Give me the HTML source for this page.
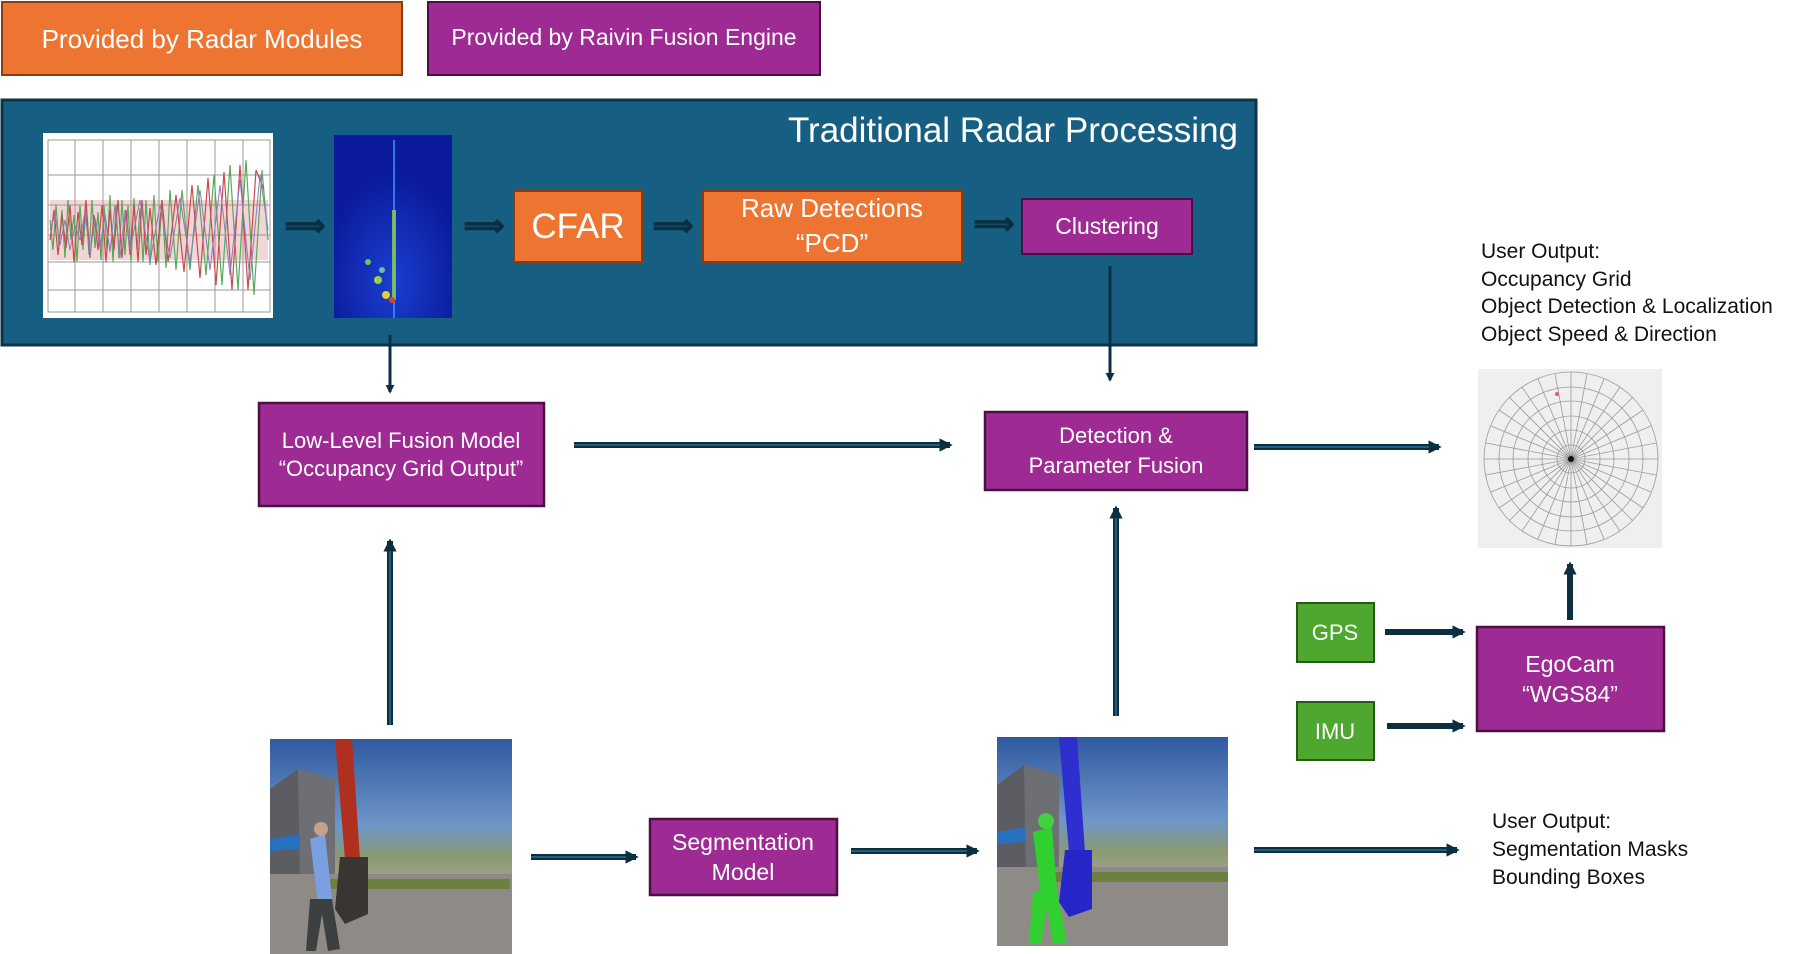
<!DOCTYPE html>
<html><head><meta charset="utf-8"><style>
html,body{margin:0;padding:0;background:#fff;}
svg{display:block;}
text{font-family:"Liberation Sans",sans-serif;}
</style></head><body>
<svg width="1812" height="954" viewBox="0 0 1812 954" xmlns="http://www.w3.org/2000/svg">
<defs>
<marker id="ah" viewBox="0 0 10 10" refX="8" refY="5" markerWidth="3" markerHeight="3" orient="auto"><path d="M0,0 L10,5 L0,10 z" fill="#0b2f40"/></marker>
<marker id="ah2" viewBox="0 0 10 10" refX="8" refY="5" markerWidth="2.2" markerHeight="2.6" orient="auto"><path d="M0,0 L10,5 L0,10 z" fill="#0b2f40"/></marker>
<linearGradient id="sky" x1="0" y1="0" x2="0" y2="1"><stop offset="0" stop-color="#2f5aa0"/><stop offset="0.4" stop-color="#6f95c8"/><stop offset="0.55" stop-color="#8a9a70"/><stop offset="0.7" stop-color="#a9a49a"/><stop offset="1" stop-color="#9c9a96"/></linearGradient>
<radialGradient id="spec" cx="0.5" cy="0.8" r="0.6"><stop offset="0" stop-color="#1a3fd0"/><stop offset="1" stop-color="#0a1a9a"/></radialGradient>
</defs>

<rect x="2" y="2" width="400" height="73" fill="#ed7431" stroke="#8a3d12" stroke-width="2"/>
<text x="202" y="48" font-size="26" fill="#fff" text-anchor="middle">Provided by Radar Modules</text>
<rect x="428" y="2" width="392" height="73" fill="#9e2a93" stroke="#4a1044" stroke-width="2"/>
<text x="624" y="45" font-size="23" fill="#fff" text-anchor="middle">Provided by Raivin Fusion Engine</text>

<rect x="2" y="100" width="1254" height="245" fill="#175f82" stroke="#0c3347" stroke-width="3"/>
<text x="1238" y="142" font-size="35" fill="#fff" text-anchor="end">Traditional Radar Processing</text>

<rect x="43" y="133" width="230" height="185" fill="#fff"/>
<g stroke="#999" stroke-width="1" fill="none">
<rect x="48" y="140" width="222" height="172"/>
<line x1="48" y1="175" x2="270" y2="175"/><line x1="48" y1="205" x2="270" y2="205"/><line x1="48" y1="235" x2="270" y2="235"/><line x1="48" y1="262" x2="270" y2="262"/><line x1="48" y1="290" x2="270" y2="290"/>
<line x1="75" y1="140" x2="75" y2="312"/><line x1="103" y1="140" x2="103" y2="312"/><line x1="131" y1="140" x2="131" y2="312"/><line x1="159" y1="140" x2="159" y2="312"/><line x1="187" y1="140" x2="187" y2="312"/><line x1="215" y1="140" x2="215" y2="312"/><line x1="243" y1="140" x2="243" y2="312"/>
</g>
<rect x="50" y="200" width="218" height="60" fill="#d58a8a" opacity="0.35"/>
<polyline fill="none" stroke="#5aa85a" stroke-width="1.2" points="50,220 53,250 56,205 59,245 62,210 65,258 68,200 71,240 74,215 77,262 80,205 83,250 86,208 89,255 92,200 95,248 98,212 101,260 104,205 107,250 110,195 113,262 116,205 119,258 122,200 125,255 128,205 131,262 134,198 137,250 140,208 143,262 146,200 150,265 154,195 158,262 162,200 166,268 170,190 176,270 182,190 190,270 198,185 206,275 214,175 222,285 230,165 238,290 246,160 254,295 262,170 268,240"/>
<polyline fill="none" stroke="#c94a4a" stroke-width="1.2" points="50,240 54,210 58,255 62,215 66,248 70,205 74,262 78,212 82,245 86,200 90,258 94,215 98,250 102,205 106,262 110,210 114,250 118,200 122,258 126,210 130,255 134,205 138,262 142,200 146,255 150,208 156,265 162,200 168,262 176,195 184,272 192,185 200,278 208,178 216,285 224,172 232,290 240,165 248,290 256,170 264,190"/>
<polyline fill="none" stroke="#8a7ac0" stroke-width="1" points="50,230 55,215 60,245 65,220 70,250 75,225 80,240 85,212 90,255 95,218 100,248 105,214 110,252 115,205 120,258 125,210 130,250 140,200 150,262 160,205 170,258 180,198 190,262 200,190 210,270 220,185 230,275 240,180 250,280 260,175 268,230"/>

<rect x="334" y="135" width="118" height="183" fill="url(#spec)"/>
<line x1="394" y1="140" x2="394" y2="318" stroke="#3fa0ff" stroke-width="2" opacity="0.7"/>
<rect x="392" y="210" width="4" height="90" fill="#8fd04a" opacity="0.8"/>
<circle cx="378" cy="280" r="4" fill="#9bd040"/><circle cx="386" cy="295" r="4" fill="#e0d030"/><circle cx="392" cy="300" r="3" fill="#e04020"/><circle cx="368" cy="262" r="3" fill="#70c060"/><circle cx="382" cy="270" r="3" fill="#6ac0a0"/>

<g fill="#0b2f40" stroke="#0b2f40" stroke-width="1" font-size="28" font-weight="bold"><text x="285" y="235">⟹</text><text x="464" y="235">⟹</text><text x="653" y="235">⟹</text><text x="974" y="233">⟹</text></g>

<rect x="514" y="191" width="128" height="71" fill="#ed7431" stroke="#8a3d12" stroke-width="2"/>
<text x="578" y="238" font-size="35" fill="#fff" text-anchor="middle">CFAR</text>
<rect x="703" y="191" width="259" height="71" fill="#ed7431" stroke="#8a3d12" stroke-width="2"/>
<text x="832" y="217" font-size="26" fill="#fff" text-anchor="middle">Raw Detections</text>
<text x="832" y="252" font-size="26" fill="#fff" text-anchor="middle">“PCD”</text>
<rect x="1022" y="199" width="170" height="55" fill="#9e2a93" stroke="#4a1044" stroke-width="2"/>
<text x="1107" y="234" font-size="23" fill="#fff" text-anchor="middle">Clustering</text>

<line x1="1110" y1="266" x2="1110" y2="380" stroke="#0b2f40" stroke-width="3" marker-end="url(#ah)"/>
<line x1="390" y1="335" x2="390" y2="392" stroke="#0b2f40" stroke-width="3" marker-end="url(#ah)"/>

<rect x="259" y="403" width="285" height="103" fill="#9e2a93" stroke="#4a1044" stroke-width="2.5"/>
<text x="401" y="448" font-size="22" fill="#fff" text-anchor="middle">Low-Level Fusion Model</text>
<text x="401" y="476" font-size="22" fill="#fff" text-anchor="middle">“Occupancy Grid Output”</text>

<rect x="985" y="412" width="262" height="78" fill="#9e2a93" stroke="#4a1044" stroke-width="2.5"/>
<text x="1116" y="443" font-size="22" fill="#fff" text-anchor="middle">Detection &amp;</text>
<text x="1116" y="473" font-size="22" fill="#fff" text-anchor="middle">Parameter Fusion</text>

<g stroke="#0b2f40" stroke-width="6" marker-end="url(#ah2)">
<line x1="574" y1="445" x2="950" y2="445"/>
<line x1="1254" y1="447" x2="1439" y2="447"/>
<line x1="390" y1="725" x2="390" y2="541"/>
<line x1="531" y1="857" x2="636" y2="857"/>
<line x1="851" y1="851" x2="977" y2="851"/>
<line x1="1116" y1="716" x2="1116" y2="508"/>
<line x1="1254" y1="850" x2="1457" y2="850"/>
<line x1="1385" y1="632" x2="1463" y2="632"/>
<line x1="1387" y1="726" x2="1463" y2="726"/>
<line x1="1570" y1="620" x2="1570" y2="564"/>
</g>
<g stroke="#2a6f90" stroke-width="1.5">
<line x1="574" y1="445" x2="940" y2="445"/><line x1="1254" y1="447" x2="1429" y2="447"/><line x1="390" y1="725" x2="390" y2="551"/><line x1="531" y1="857" x2="626" y2="857"/><line x1="851" y1="851" x2="967" y2="851"/><line x1="1116" y1="716" x2="1116" y2="518"/><line x1="1254" y1="850" x2="1447" y2="850"/>
</g>

<g font-size="21" fill="#111">
<text x="1481" y="258">User Output:</text>
<text x="1481" y="286">Occupancy Grid</text>
<text x="1481" y="313">Object Detection &amp; Localization</text>
<text x="1481" y="341">Object Speed &amp; Direction</text>
</g>

<rect x="1478" y="369" width="184" height="179" fill="#efefef"/>
<g fill="none" stroke="#9a9a9a" stroke-width="0.8">
<circle cx="1571" cy="459" r="87"/><circle cx="1571" cy="459" r="72"/><circle cx="1571" cy="459" r="58"/><circle cx="1571" cy="459" r="43"/><circle cx="1571" cy="459" r="29"/><circle cx="1571" cy="459" r="14"/>
<path d="M1484,459H1658M1571,372V546M1509,397L1633,521M1633,397L1509,521M1538,379L1604,539M1604,379L1538,539M1491,426L1651,492M1651,426L1491,492M1555,374L1587,544M1587,374L1555,544M1486,443L1656,475M1656,443L1486,475M1522,387L1620,531M1620,387L1522,531M1499,410L1643,508M1643,410L1499,508"/>
</g>
<circle cx="1571" cy="459" r="3" fill="#111"/>
<circle cx="1557" cy="394" r="2" fill="#e06060"/>

<svg x="270" y="739" width="242" height="215" viewBox="0 0 242 215">
<rect width="242" height="215" fill="url(#sky)"/>
<polygon points="0,50 28,30 65,40 65,140 0,150" fill="#5b5d63"/>
<polygon points="28,30 65,40 65,140 30,145" fill="#6d6f75"/>
<rect x="0" y="135" width="242" height="80" fill="#8e8b86"/>
<polygon points="0,100 30,95 30,110 0,112" fill="#2a70c0"/>
<rect x="60" y="140" width="180" height="10" fill="#6c8040"/>
<polygon points="65,0 82,0 90,120 75,120" fill="#b03020"/>
<polygon points="70,118 98,118 98,175 75,185 65,170" fill="#3a3530"/>
<polygon points="40,100 55,95 62,160 48,165" fill="#7aa0e0"/>
<circle cx="51" cy="90" r="7" fill="#c8a08a"/>
<polygon points="40,160 62,160 70,210 58,212 52,175 46,212 36,212" fill="#3c4040"/>
</svg>

<rect x="650" y="819" width="187" height="76" fill="#9e2a93" stroke="#4a1044" stroke-width="2.5"/>
<text x="743" y="850" font-size="23" fill="#fff" text-anchor="middle">Segmentation</text>
<text x="743" y="880" font-size="23" fill="#fff" text-anchor="middle">Model</text>

<svg x="997" y="737" width="231" height="209" viewBox="0 0 231 209">
<rect width="231" height="209" fill="url(#sky)"/>
<polygon points="0,48 27,28 62,38 62,135 0,145" fill="#5b5d63"/>
<polygon points="27,28 62,38 62,135 29,140" fill="#6d6f75"/>
<rect x="0" y="130" width="231" height="79" fill="#8e8b86"/>
<polygon points="0,95 28,90 28,105 0,107" fill="#2a70c0"/>
<rect x="58" y="135" width="173" height="10" fill="#6c8040"/>
<polygon points="62,0 80,0 88,115 72,115" fill="#2f2fcf"/>
<polygon points="68,113 95,113 95,172 72,180 62,165" fill="#2626c8"/>
<polygon points="36,95 55,90 60,155 44,160" fill="#30d030"/>
<circle cx="49" cy="84" r="8" fill="#40d040"/>
<polygon points="36,155 60,155 70,205 56,207 50,170 44,207 32,207" fill="#2fd02f"/>
</svg>

<g font-size="21" fill="#111">
<text x="1492" y="828">User Output:</text>
<text x="1492" y="856">Segmentation Masks</text>
<text x="1492" y="884">Bounding Boxes</text>
</g>

<rect x="1297" y="603" width="77" height="59" fill="#4ea72e" stroke="#275a16" stroke-width="2"/>
<text x="1335" y="640" font-size="22" fill="#fff" text-anchor="middle">GPS</text>
<rect x="1297" y="702" width="77" height="58" fill="#4ea72e" stroke="#275a16" stroke-width="2"/>
<text x="1335" y="739" font-size="22" fill="#fff" text-anchor="middle">IMU</text>
<rect x="1477" y="627" width="187" height="104" fill="#9e2a93" stroke="#4a1044" stroke-width="2.5"/>
<text x="1570" y="672" font-size="23" fill="#fff" text-anchor="middle">EgoCam</text>
<text x="1570" y="702" font-size="23" fill="#fff" text-anchor="middle">“WGS84”</text>
</svg>
</body></html>
